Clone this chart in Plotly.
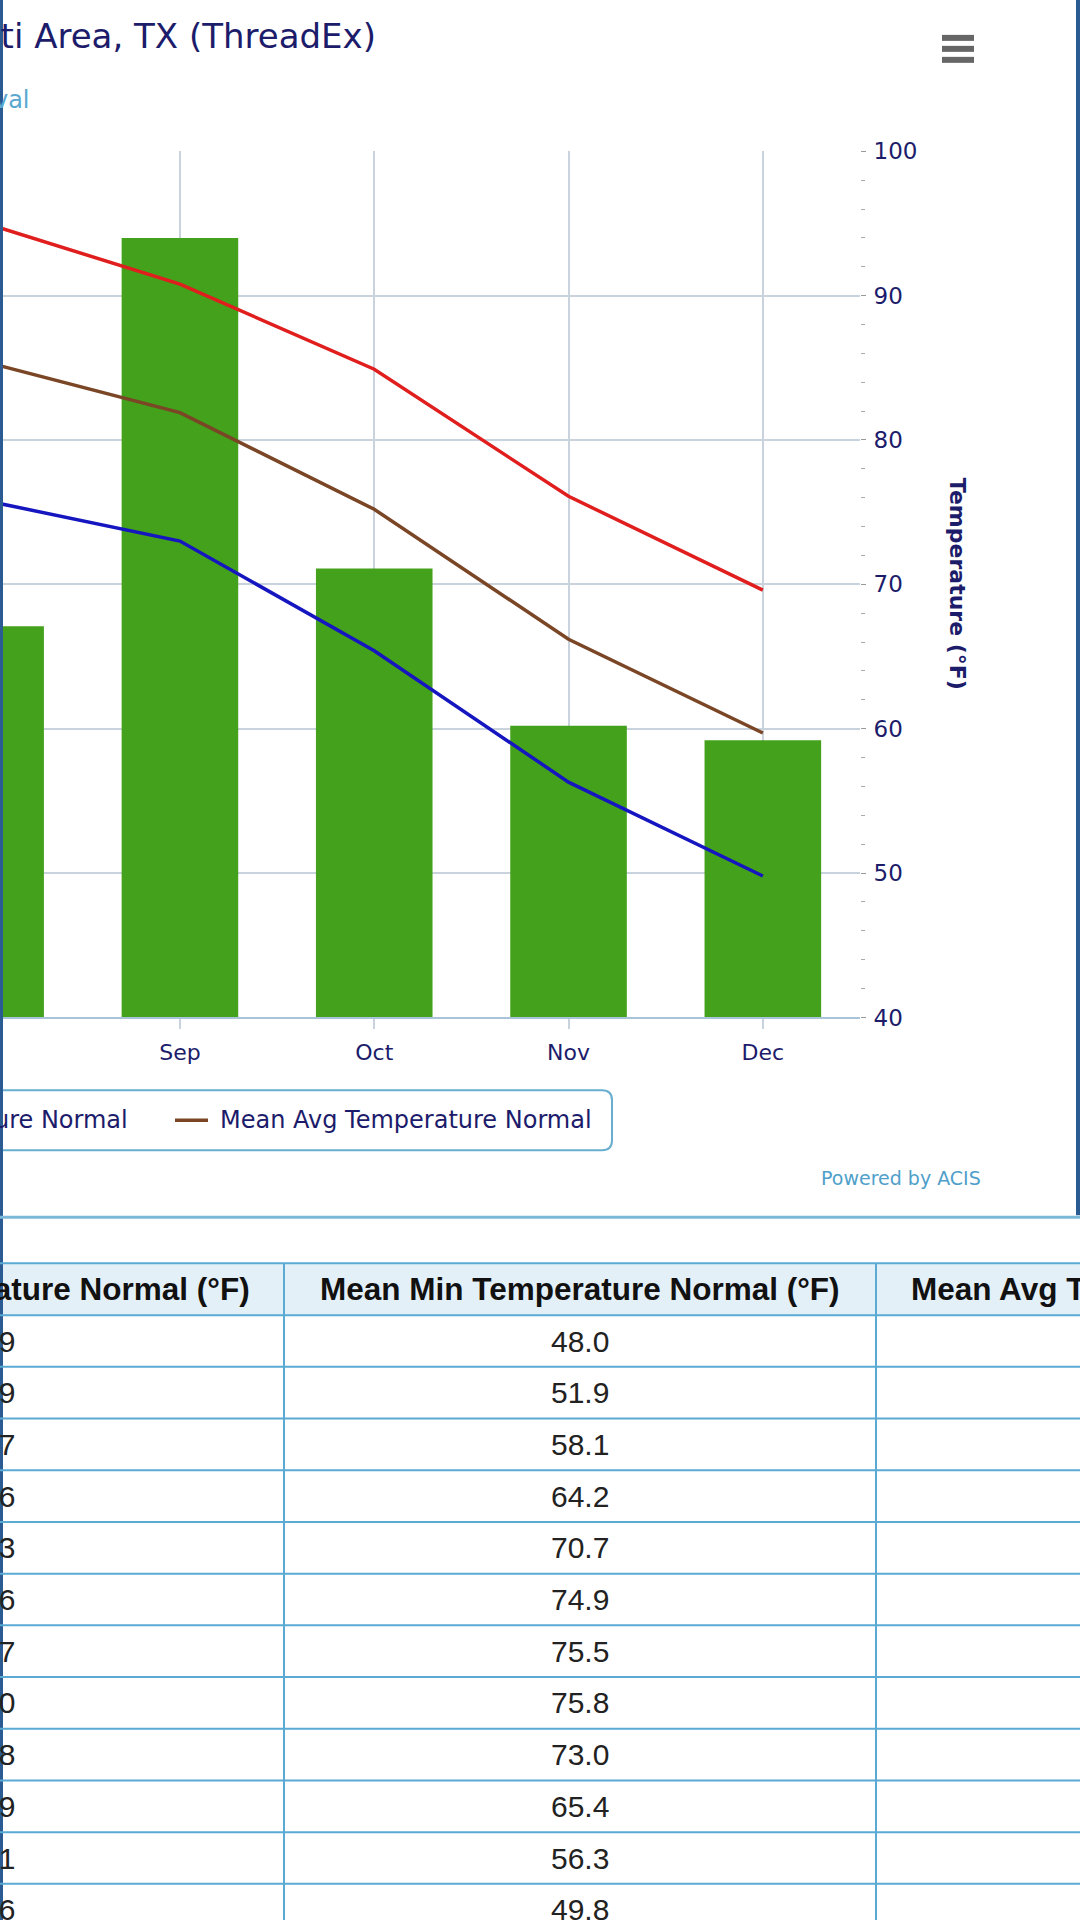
import plotly.graph_objects as go

# ---------------- data ----------------
months = ["Jan", "Feb", "Mar", "Apr", "May", "Jun", "Jul", "Aug", "Sep", "Oct", "Nov", "Dec"]
max_normal = [66.9, 70.9, 76.7, 82.6, 88.3, 92.6, 94.7, 95.0, 90.8, 84.9, 76.1, 69.6]
min_normal = [48.0, 51.9, 58.1, 64.2, 70.7, 74.9, 75.5, 75.8, 73.0, 65.4, 56.3, 49.8]
avg_normal = [57.5, 61.4, 67.4, 73.4, 79.5, 83.8, 85.1, 85.4, 81.9, 75.2, 66.2, 59.7]
bar_months = ["Aug", "Sep", "Oct", "Nov", "Dec"]
bar_values = [67.1, 94.0, 71.1, 60.2, 59.2]
y_ticks = [40, 50, 60, 70, 80, 90, 100]

W, H = 1080, 1920
def px(x):
    return x / W
def py(y):
    # small vertical compensation observed in the rendered page
    yy = (y - 10.6) / 0.9874
    return 1 - yy / H

NAVY = "#1c1c6b"
GRID = "#c9d3dd"
TABLE_LINE = "#5aaad3"

fig = go.Figure()
fig.add_trace(go.Bar(x=bar_months, y=bar_values, marker=dict(color="#43a11b", line=dict(width=0)),
                     name="Observed", showlegend=False))
fig.add_trace(go.Scatter(x=months, y=max_normal, mode="lines", line=dict(color="#e01e1e", width=3.5),
                         name="Mean Max Temperature Normal", showlegend=False))
fig.add_trace(go.Scatter(x=months, y=min_normal, mode="lines", line=dict(color="#1616c0", width=3.5),
                         name="Mean Min Temperature Normal", showlegend=False))
fig.add_trace(go.Scatter(x=months, y=avg_normal, mode="lines", line=dict(color="#7a4626", width=3.5),
                         name="Mean Avg Temperature Normal", showlegend=False))

fig.update_layout(
    width=W, height=H, margin=dict(l=0, r=0, t=0, b=0),
    paper_bgcolor="white", plot_bgcolor="white",
    bargap=0.4, showlegend=False,
    font=dict(family="DejaVu Sans", color=NAVY),
    xaxis=dict(type="category", categoryorder="array", categoryarray=months,
               range=[7.074, 11.5], domain=[0, px(860)],
               showgrid=True, gridcolor=GRID, gridwidth=1.5,
               showline=True, linecolor="#a9c3d8", linewidth=2,
               ticks="outside", ticklen=10, tickcolor=GRID, tickwidth=1.5,
               tickfont=dict(size=22, color=NAVY, family="DejaVu Sans"),
               ticklabelstandoff=4, fixedrange=True),
    yaxis=dict(range=[40, 100], domain=[py(1016), py(149)], side="right",
               tickvals=y_ticks, showgrid=True, gridcolor=GRID, gridwidth=1.5,
               zeroline=False, showline=False,
               ticks="outside", ticklen=5, tickcolor="#999999", tickwidth=1,
               minor=dict(dtick=2, ticks="outside", ticklen=4, tickcolor="#aaaaaa", showgrid=False),
               tickfont=dict(size=23, color=NAVY, family="DejaVu Sans"),
               ticklabelstandoff=3, fixedrange=True),
)

shapes = []
annotations = []

# Title / subtitle
annotations.append(dict(text="Corpus Christi Area, TX (ThreadEx)", xref="paper", yref="paper",
                        x=px(378), y=py(34), xanchor="right", yanchor="middle", showarrow=False,
                        font=dict(size=34, color=NAVY, family="DejaVu Sans")))
annotations.append(dict(text="interval", xref="paper", yref="paper",
                        x=px(32), y=py(98), xanchor="right", yanchor="middle", showarrow=False,
                        font=dict(size=24, color="#5aa8d0", family="DejaVu Sans")))

# Hamburger menu
for yy in (35.5, 46.5, 57.5):
    shapes.append(dict(type="line", xref="paper", yref="paper", x0=px(942), x1=px(974),
                       y0=py(yy), y1=py(yy), line=dict(color="#666666", width=6)))

# Y axis title
annotations.append(dict(text="<b>Temperature (°F)</b>", xref="paper", yref="paper",
                        x=px(957), y=py(582), xanchor="center", yanchor="middle", textangle=90,
                        showarrow=False, font=dict(size=22, color=NAVY, family="DejaVu Sans")))

# Legend box (rounded on the right)
lx0, lx1, ly0, ly1, r = -30, 612, 1089, 1149, 10
path = (f"M {px(lx0)},{py(ly0)} L {px(lx1 - r)},{py(ly0)} Q {px(lx1)},{py(ly0)} {px(lx1)},{py(ly0 + r)} "
        f"L {px(lx1)},{py(ly1 - r)} Q {px(lx1)},{py(ly1)} {px(lx1 - r)},{py(ly1)} L {px(lx0)},{py(ly1)}")
shapes.append(dict(type="path", xref="paper", yref="paper", path=path,
                   line=dict(color="#6aaecf", width=2)))
annotations.append(dict(text="Mean Min Temperature Normal", xref="paper", yref="paper",
                        x=px(130), y=py(1119), xanchor="right", yanchor="middle", showarrow=False,
                        font=dict(size=24, color=NAVY, family="DejaVu Sans")))
shapes.append(dict(type="line", xref="paper", yref="paper", x0=px(175), x1=px(208),
                   y0=py(1119), y1=py(1119), line=dict(color="#7a4626", width=3.5)))
annotations.append(dict(text="Mean Avg Temperature Normal", xref="paper", yref="paper",
                        x=px(218), y=py(1119), xanchor="left", yanchor="middle", showarrow=False,
                        font=dict(size=24, color=NAVY, family="DejaVu Sans")))

# Credits
annotations.append(dict(text="Powered by ACIS", xref="paper", yref="paper",
                        x=px(901), y=py(1177), xanchor="center", yanchor="middle", showarrow=False,
                        font=dict(size=19, color="#4f9fca", family="DejaVu Sans")))

# Frame borders
shapes.append(dict(type="line", xref="paper", yref="paper", x0=px(1.5), x1=px(1.5), y0=-0.05, y1=1.05,
                   line=dict(color="#2a5b93", width=3)))
shapes.append(dict(type="line", xref="paper", yref="paper", x0=px(1078), x1=px(1078), y0=py(1214), y1=1.05,
                   line=dict(color="#2a5b93", width=4)))

# Separator
shapes.append(dict(type="line", xref="paper", yref="paper", x0=0, x1=1, y0=py(1216), y1=py(1216),
                   line=dict(color="#7cb9d8", width=3)))

# Table
head_top, head_bot, row_h = 1262, 1314, 51.75
shapes.append(dict(type="rect", xref="paper", yref="paper", x0=px(2), x1=1, y0=py(head_bot), y1=py(head_top),
                   fillcolor="#e4f0f8", line=dict(width=0), layer="below"))
row_lines = [head_top, head_bot] + [head_bot + row_h * (k + 1) for k in range(11)]
for yy in row_lines:
    shapes.append(dict(type="line", xref="paper", yref="paper", x0=0, x1=1, y0=py(yy), y1=py(yy),
                       line=dict(color=TABLE_LINE, width=2)))
for xx in (284, 876):
    shapes.append(dict(type="line", xref="paper", yref="paper", x0=px(xx), x1=px(xx), y0=-0.05, y1=py(head_top),
                       line=dict(color=TABLE_LINE, width=2)))

col_centers = {"max": -14, "min": 580, "avg": 1172}
headers = [("Mean Max Temperature Normal (°F)", col_centers["max"]),
           ("Mean Min Temperature Normal (°F)", col_centers["min"]),
           ("Mean Avg Temperature Normal (°F)", col_centers["avg"])]
for txt, cx in headers:
    annotations.append(dict(text=f"<b>{txt}</b>", xref="paper", yref="paper",
                            x=px(cx), y=py((head_top + head_bot) / 2), xanchor="center", yanchor="middle",
                            showarrow=False, font=dict(size=31.5, color="#111111", family="Liberation Sans")))
for i in range(12):
    yc = head_bot + row_h * i + row_h / 2
    for vals, key in ((max_normal, "max"), (min_normal, "min")):
        annotations.append(dict(text=f"{vals[i]:.1f}", xref="paper", yref="paper",
                                x=px(col_centers[key]), y=py(yc), xanchor="center", yanchor="middle",
                                showarrow=False, font=dict(size=30, color="#222222", family="Liberation Sans")))

fig.update_layout(shapes=shapes, annotations=annotations)
fig.write_html("out.html", config={"displayModeBar": False})
